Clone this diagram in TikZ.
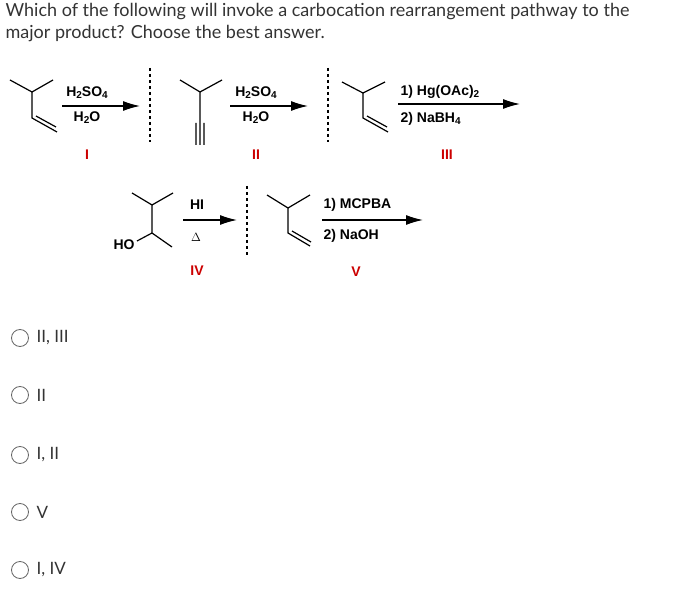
\documentclass[tikz,border=0pt]{standalone}
\usepackage{fontspec}
\usetikzlibrary{arrows.meta}
\setmainfont{Lato}
\newfontfamily\chem{Liberation Sans}
\newcommand{\sbs}[1]{\raisebox{-0.3ex}{\fontsize{10}{11}\selectfont #1}}
\begin{document}
\begin{tikzpicture}[x=1pt,y=-1pt,line width=1.2pt,
  q/.style={anchor=west,font=\fontsize{18}{21}\selectfont,text=black!80,inner sep=0},
  lab/.style={font=\chem\bfseries\fontsize{14}{16}\selectfont,inner sep=0},
  num/.style={font=\chem\bfseries\fontsize{14}{16}\selectfont,text=red!80!black,inner sep=0},
  rxn/.style={-{Latex[length=17pt,width=10pt]},line width=1.3pt},
  sep/.style={dash pattern=on 3pt off 3pt,line width=2pt},
  opt/.style={anchor=west,font=\fontsize{17}{20}\selectfont,text=black!80,inner sep=0},
  rad/.style={circle,draw=black!60,line width=0.8pt,minimum size=17pt,inner sep=0}]
\useasboundingbox (0,0) rectangle (680,596);
\node[q] (t1) at (5,12) {Which of the following will invoke a carbocation rearrangement pathway to the};
\node[q] (t2) at (5,34) {major product? Choose the best answer.};
% I
\draw (10,80)--(32,92)--(53,80) (32,92)--(32,118)--(57,132) (36,116)--(56,127);
\coordinate (a1s) at (62,106); \coordinate (a1e) at (140,106);
\draw[rxn] (a1s)--(a1e);
\node[lab] (r1a) at (87,93) {H\sbs{2}SO\sbs{4}};
\node[lab] (r1b) at (87,118) {H\sbs{2}O};
\node[num] (n1) at (87,155) {I};
\coordinate (d1a) at (150,68); \coordinate (d1b) at (150,142);
\draw[sep] (d1a)--(d1b);
% II
\draw (180,80)--(200,92)--(222,80) (200,92)--(200,123) (196,123)--(196,145) (200,123)--(200,145) (204,123)--(204,145);
\coordinate (a2s) at (230,106); \coordinate (a2e) at (308,106);
\draw[rxn] (a2s)--(a2e);
\node[lab] (r2a) at (256,93) {H\sbs{2}SO\sbs{4}};
\node[lab] (r2b) at (256,118) {H\sbs{2}O};
\node[num] (n2) at (256,155) {II};
\coordinate (d2a) at (328,68); \coordinate (d2b) at (328,142);
\draw[sep] (d2a)--(d2b);
% III
\draw (342,82)--(363,93)--(385,82) (363,93)--(363,118)--(388,132) (367,116)--(387,127);
\coordinate (a3s) at (398,104); \coordinate (a3e) at (520,104);
\draw[rxn] (a3s)--(a3e);
\node[lab,anchor=west] (r3a) at (400,92) {1) Hg(OAc)\sbs{2}};
\node[lab,anchor=west] (r3b) at (400,119) {2) NaBH\sbs{4}};
\node[num] (n3) at (447,155) {III};
% IV
\draw (132,193)--(152,205)--(173,193) (152,205)--(152,233)--(172,247) (152,233)--(137,241);
\node[lab] (ho) at (124,245) {HO};
\coordinate (a4s) at (183,220); \coordinate (a4e) at (237,220);
\draw[rxn] (a4s)--(a4e);
\node[lab,font=\fontsize{13}{15}\selectfont] (r4b) at (196,237) {$\Delta$};
\node[lab] (r4a) at (197,205) {HI};
\node[num] (n4) at (197,271) {IV};
\coordinate (d3a) at (247,186); \coordinate (d3b) at (247,256);
\draw[sep] (d3a)--(d3b);
% V
\draw (267,195)--(288,208)--(310,195) (288,208)--(288,233)--(310,246) (292,231)--(311,242);
\coordinate (a5s) at (322,220); \coordinate (a5e) at (423,220);
\draw[rxn] (a5s)--(a5e);
\node[lab,anchor=west] (r5a) at (323,205) {1) MCPBA};
\node[lab,anchor=west] (r5b) at (323,236) {2) NaOH};
\node[num] (n5) at (356,272) {V};
% options
\foreach \y/\t [count=\i] in {338/{II, III},395/{II},455/{I, II},512/{V},570/{I, IV}}{
  \node[rad] (c\i) at (20,\y) {};
  \node[opt] (o\i) at (36,\y) {\t};
}
\end{tikzpicture}
\end{document}
